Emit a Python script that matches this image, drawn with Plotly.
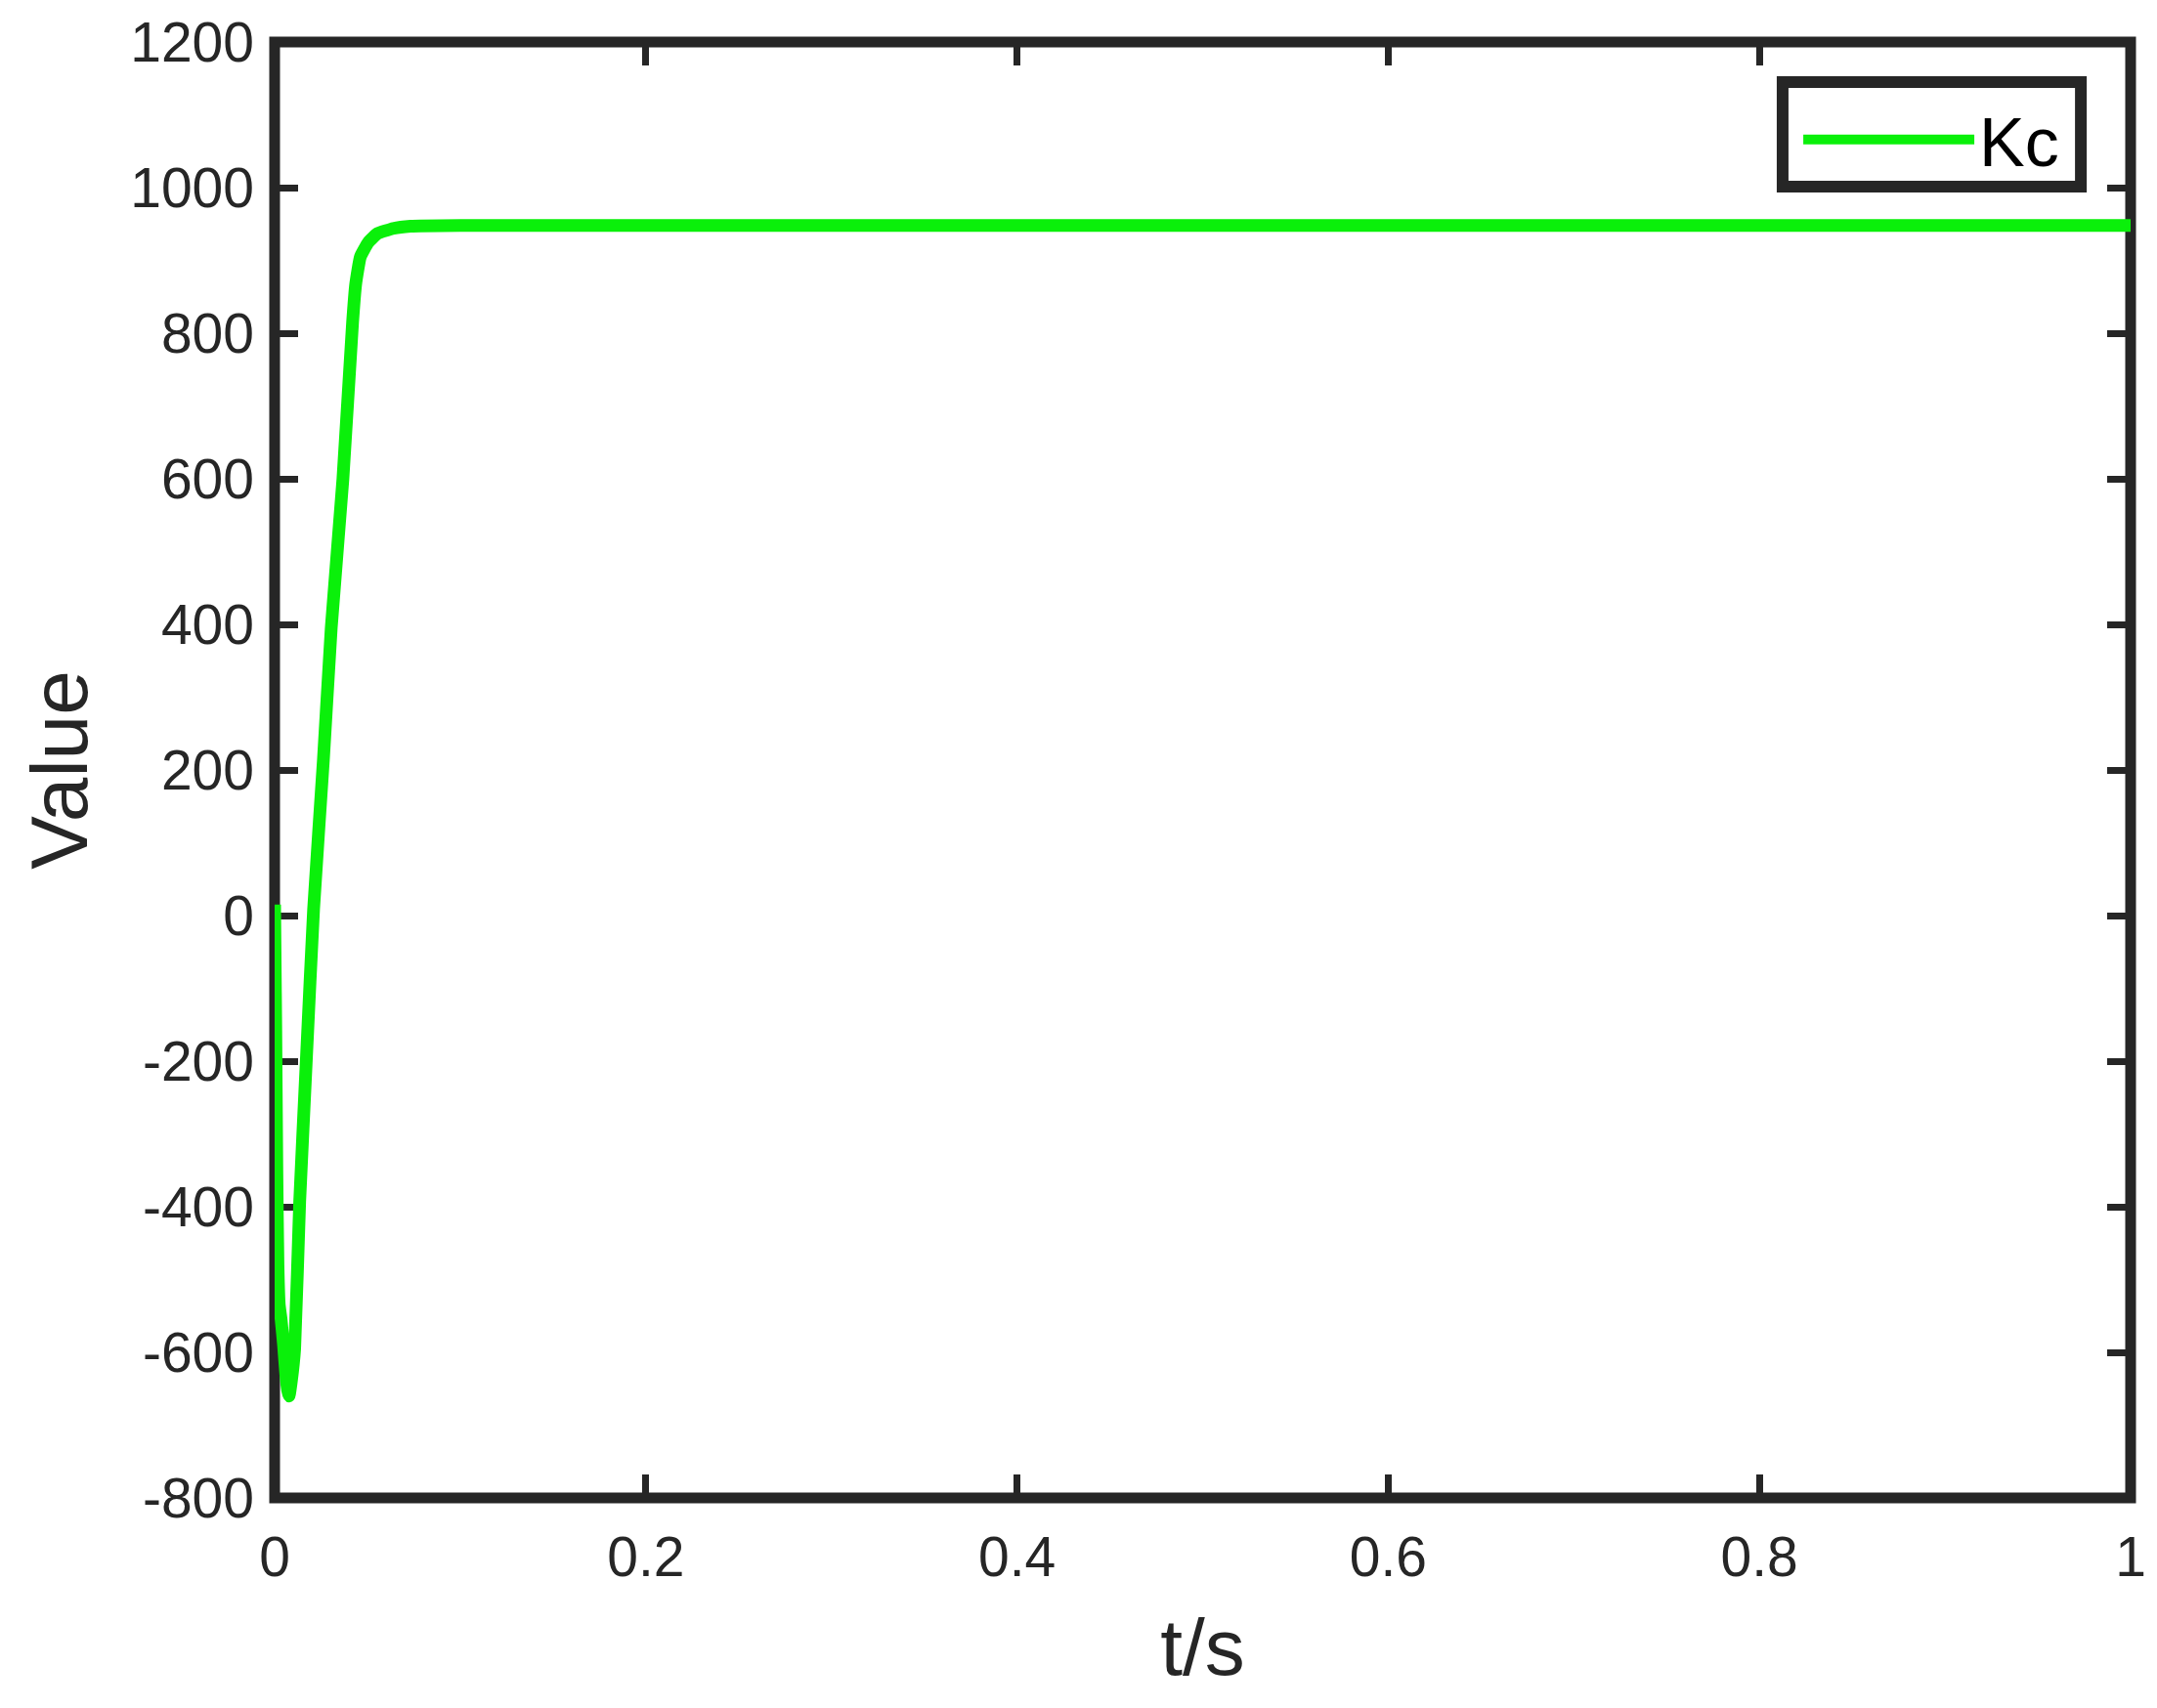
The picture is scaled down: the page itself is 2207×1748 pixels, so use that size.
import plotly.graph_objects as go

# Kc response
t = [0, 0.0006, 0.0012, 0.0018, 0.0025, 0.0035, 0.0048, 0.006, 0.007, 0.0078,
     0.009, 0.0108, 0.0135, 0.0172, 0.021, 0.0263, 0.0305, 0.0368, 0.042,
     0.0437, 0.0462, 0.0505, 0.0555, 0.064, 0.0732, 0.1, 0.3, 0.6, 1.0]
kc = [15, -150, -350, -480, -535, -555, -590, -630, -652, -660,
      -640, -595, -393, -192, 9, 215, 395, 600, 815,
      868, 905, 925, 937, 944, 947, 948, 948, 948, 948]

x_ticks = [0, 0.2, 0.4, 0.6, 0.8, 1]
x_labels = ['0', '0.2', '0.4', '0.6', '0.8', '1']
y_ticks = [-800, -600, -400, -200, 0, 200, 400, 600, 800, 1000, 1200]
y_labels = ['-800', '-600', '-400', '-200', '0', '200', '400', '600', '800', '1000', '1200']

ink = '#262626'

fig = go.Figure()
fig.add_trace(go.Scatter(x=t, y=kc, mode='lines', name='Kc',
                         line=dict(color='#0af00a', width=13, shape='spline', smoothing=0.4)))

axis_common = dict(
    showline=False, mirror='ticks', automargin=False,
    ticks='inside', ticklen=24, tickwidth=7, tickcolor=ink,
    showgrid=False, zeroline=False, layer='below traces',
    tickfont=dict(family='Liberation Sans', size=57, color=ink),
)

# page body adds an 8px offset, margins compensate for it
fig.update_layout(
    width=2207, height=1748,
    paper_bgcolor='white', plot_bgcolor='white',
    margin=dict(l=273, r=35, t=35, b=223),
    font=dict(family='Liberation Sans', color=ink),
    xaxis=dict(range=[0, 1], tickvals=x_ticks, ticktext=x_labels, ticklabelstandoff=22,
               title=dict(text='t/s', font=dict(size=82, color=ink), standoff=32),
               **axis_common),
    yaxis=dict(range=[-800, 1200], tickvals=y_ticks, ticktext=y_labels, ticklabelstandoff=20,
               title=dict(text='Value', font=dict(size=82, color=ink), standoff=16),
               **axis_common),
    showlegend=True,
    legend=dict(x=0.821, y=0.933, xanchor='left', yanchor='middle',
                bgcolor='rgba(0,0,0,0)', borderwidth=0,
                font=dict(family='Liberation Sans', size=70, color='black'),
                itemwidth=175),
)

# axes box (MATLAB style, centred on the plot edges)
fig.add_shape(type='rect', xref='paper', yref='paper', x0=0, x1=1, y0=0, y1=1,
              line=dict(color=ink, width=11), layer='below')
# legend frame
fig.add_shape(type='rect', xref='paper', yref='paper',
              x0=0.8125, x1=0.9732, y0=0.9007, y1=0.9725,
              line=dict(color=ink, width=12), fillcolor='white', layer='below')

fig.write_html('out.html')
